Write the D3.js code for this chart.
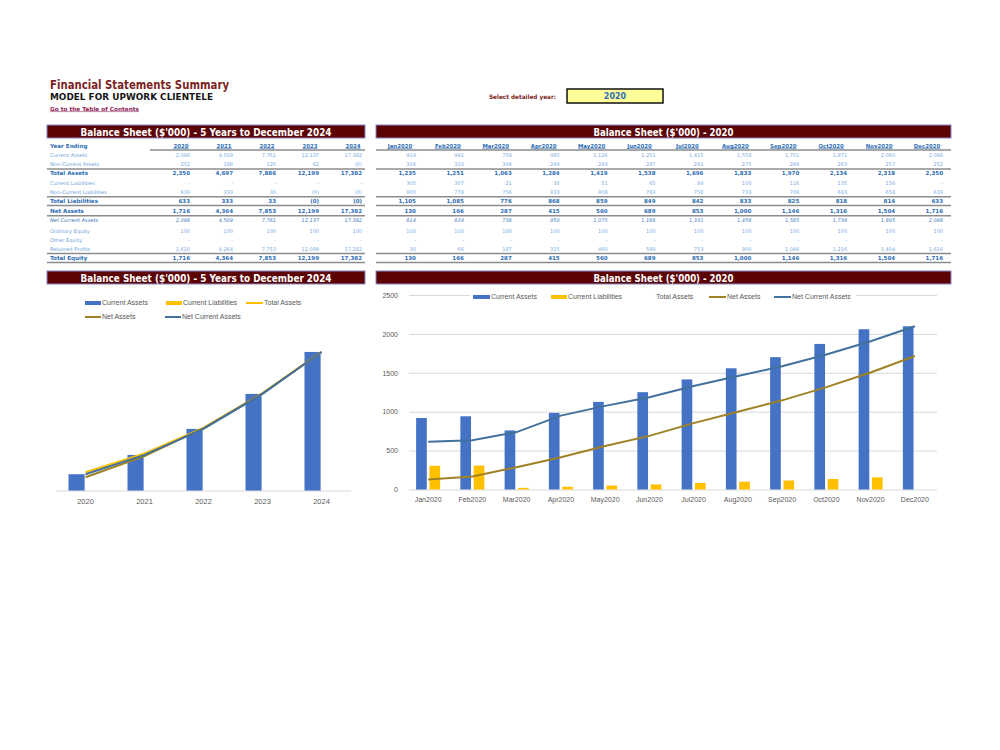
<!DOCTYPE html>
<html>
<head>
<meta charset="utf-8">
<script src="https://cdn.jsdelivr.net/npm/d3@7"></script>
<style>
body { margin: 0; background: #fff; }
svg { display: block; font-family: "DejaVu Sans", Verdana, sans-serif; }
</style>
</head>
<body>
<svg id="sheet" width="1000" height="750"></svg>
<script>
// ---- data ----
const years = ['2020', '2021', '2022', '2023', '2024'];
const months = ['Jan2020', 'Feb2020', 'Mar2020', 'Apr2020', 'May2020', 'Jun2020',
                'Jul2020', 'Aug2020', 'Sep2020', 'Oct2020', 'Nov2020', 'Dec2020'];
const rowLabels = ['Current Assets', 'Non-Current Assets', 'Total Assets', 'Current Liabilities',
                   'Non-Current Liabilities', 'Total Liabilities', 'Net Assets', 'Net Current Assets',
                   'Ordinary Equity', 'Other Equity', 'Retained Profits', 'Total Equity'];

// yearly (small negatives show as "(0)")
const currentAssets5 = [2098, 4509, 7761, 12137, 17382];
const nonCurrentAssets5 = [252, 188, 125, 62, -0.2];
const totalAssets5 = [2350, 4697, 7886, 12199, 17382];
const currentLiab5 = [0, 0, 0, 0, 0];
const nonCurrentLiab5 = [633, 333, 33, -0.2, -0.2];
const totalLiab5 = [633, 333, 33, -0.2, -0.2];
const netAssets5 = [1716, 4364, 7853, 12199, 17382];
const netCurrentAssets5 = [2098, 4509, 7761, 12137, 17382];
const ordinaryEquity5 = [100, 100, 100, 100, 100];
const otherEquity5 = [0, 0, 0, 0, 0];
const retainedProfits5 = [1616, 4264, 7753, 12099, 17282];
const totalEquity5 = [1716, 4364, 7853, 12199, 17382];

// monthly 2020
const currentAssetsM = [919, 941, 759, 985, 1126, 1251, 1415, 1558, 1701, 1871, 2060, 2098];
const nonCurrentAssetsM = [316, 310, 304, 299, 293, 287, 281, 275, 269, 263, 257, 252];
const totalAssetsM = [1235, 1251, 1063, 1284, 1419, 1538, 1696, 1833, 1970, 2134, 2318, 2350];
const currentLiabM = [305, 307, 21, 35, 51, 65, 84, 100, 116, 135, 156, 0];
const nonCurrentLiabM = [800, 778, 756, 833, 808, 783, 758, 733, 708, 683, 658, 633];
const totalLiabM = [1105, 1085, 776, 868, 859, 849, 842, 833, 825, 818, 814, 633];
const netAssetsM = [130, 166, 287, 415, 560, 689, 853, 1000, 1146, 1316, 1504, 1716];
const netCurrentAssetsM = [614, 634, 738, 950, 1075, 1186, 1331, 1458, 1585, 1736, 1905, 2098];
const ordinaryEquityM = [100, 100, 100, 100, 100, 100, 100, 100, 100, 100, 100, 100];
const otherEquityM = [0, 0, 0, 0, 0, 0, 0, 0, 0, 0, 0, 0];
const retainedProfitsM = [30, 66, 187, 315, 460, 589, 753, 900, 1046, 1216, 1404, 1616];
const totalEquityM = [130, 166, 287, 415, 560, 689, 853, 1000, 1146, 1316, 1504, 1716];

const yTicksRight = [0, 500, 1000, 1500, 2000, 2500];

const yearRows = [currentAssets5, nonCurrentAssets5, totalAssets5, currentLiab5, nonCurrentLiab5,
                  totalLiab5, netAssets5, netCurrentAssets5, ordinaryEquity5, otherEquity5,
                  retainedProfits5, totalEquity5];
const monthRows = [currentAssetsM, nonCurrentAssetsM, totalAssetsM, currentLiabM, nonCurrentLiabM,
                   totalLiabM, netAssetsM, netCurrentAssetsM, ordinaryEquityM, otherEquityM,
                   retainedProfitsM, totalEquityM];

// ---- drawing ----
const svg = d3.select('#sheet');
svg.append('rect').attr('width', 1000).attr('height', 750).attr('fill', '#fff');

const blueBar = '#4472c4', yellow = '#ffc000', gold = '#9f8224', steel = '#41719c';
const maroon = '#5c0404';

// heading block
svg.append('text').attr('x', 50).attr('y', 89)
    .attr('font-size', 11.5).attr('font-weight', 'bold').attr('fill', '#7b1f22')
    .attr('textLength', 179).attr('lengthAdjust', 'spacingAndGlyphs')
    .text('Financial Statements Summary');
svg.append('text').attr('x', 50).attr('y', 99.5)
    .attr('font-size', 9).attr('font-weight', 'bold').attr('fill', '#161616')
    .attr('textLength', 163).attr('lengthAdjust', 'spacingAndGlyphs')
    .text('MODEL FOR UPWORK CLIENTELE');
svg.append('text').attr('x', 50).attr('y', 110.5)
    .attr('font-size', 5.6).attr('font-weight', 'bold').attr('fill', '#8e2456')
    .attr('text-decoration', 'underline')
    .attr('textLength', 89).attr('lengthAdjust', 'spacingAndGlyphs')
    .text('Go to the Table of Contents');

svg.append('text').attr('x', 489).attr('y', 99)
    .attr('font-size', 6).attr('font-weight', 'bold').attr('fill', '#7b1f22')
    .attr('textLength', 67).attr('lengthAdjust', 'spacingAndGlyphs')
    .text('Select detailed year:');
svg.append('rect').attr('x', 567).attr('y', 89).attr('width', 96).attr('height', 14)
    .attr('fill', '#ffff99').attr('stroke', '#111').attr('stroke-width', 1.5);
svg.append('text').attr('x', 615).attr('y', 99)
    .attr('text-anchor', 'middle').attr('font-size', 8).attr('font-weight', 'bold')
    .attr('fill', '#2e6db4').text(years[0]);

function headerBar(x0, x1, y0, y1, label, tl) {
    svg.append('rect').attr('x', x0).attr('y', y0).attr('width', x1 - x0).attr('height', y1 - y0)
        .attr('fill', maroon).attr('stroke', '#8a86c4').attr('stroke-width', 1);
    svg.append('text').attr('x', (x0 + x1) / 2).attr('y', (y0 + y1) / 2 + 4)
        .attr('text-anchor', 'middle').attr('font-size', 10.5).attr('font-weight', 'bold')
        .attr('fill', '#fff').attr('textLength', tl).attr('lengthAdjust', 'spacingAndGlyphs')
        .text(label);
}

headerBar(47, 365, 125, 138, "Balance Sheet ($'000) - 5 Years to December 2024", 251);
headerBar(376, 951, 125, 138, "Balance Sheet ($'000) - " + years[0], 140);
headerBar(47, 365, 271, 284, "Balance Sheet ($'000) - 5 Years to December 2024", 251);
headerBar(376, 951, 271, 284, "Balance Sheet ($'000) - " + years[0], 140);

// ---- tables ----
const fmtNum = d3.format(',.0f');
function cell(v) {
    if (v === 0) return '-';
    if (v < 0) return '(' + fmtNum(Math.abs(v)) + ')';
    return fmtNum(v);
}
const rowKinds = ['n', 'n', 'b', 'n', 'n', 'b', 'b', 'i', 'n', 'n', 'n', 'b'];
const rowY = i => 155 + 9 * i + (i >= 3 ? 1 : 0) + (i >= 6 ? 1 : 0) + (i >= 8 ? 2 : 0);
const lineYs = [169, 196.8, 205.5, 215.8, 253.5, 262.5];

function drawTable(cols, rows, x0, x1, colX0, valueInset, headCenter, showLabels) {
    const g = svg.append('g');
    const x = d3.scaleBand().domain(cols).range([colX0, x1]);

    // separators
    g.append('line').attr('x1', colX0).attr('x2', x1).attr('y1', 150).attr('y2', 150)
        .attr('stroke', '#8c8c8c').attr('stroke-width', 1.6);
    lineYs.forEach(y => {
        g.append('line').attr('x1', x0).attr('x2', x1).attr('y1', y).attr('y2', y)
            .attr('stroke', '#8c8c8c').attr('stroke-width', 1.4);
    });

    // column headers
    g.selectAll('.head').data(cols).enter().append('text')
        .attr('x', d => headCenter(x(d), x.bandwidth()))
        .attr('y', 147.5)
        .attr('text-anchor', 'middle')
        .attr('font-size', 5.4).attr('font-weight', 'bold')
        .attr('text-decoration', 'underline')
        .attr('fill', '#2e6db4')
        .text(d => d);

    if (showLabels) {
        g.append('text').attr('x', 50).attr('y', 147.5)
            .attr('font-size', 5.6).attr('font-weight', 'bold').attr('fill', '#2e6db4')
            .text('Year Ending');
        g.selectAll('.lab').data(rowLabels).enter().append('text')
            .attr('x', 50).attr('y', (d, i) => rowY(i) + 1.9)
            .attr('font-size', (d, i) => rowKinds[i] === 'b' ? 5.6 : 5.1)
            .attr('font-weight', (d, i) => rowKinds[i] === 'b' ? 'bold' : 'normal')
            .attr('font-style', (d, i) => rowKinds[i] === 'i' ? 'italic' : 'normal')
            .attr('fill', (d, i) => rowKinds[i] === 'n' ? '#6a9fd8' : '#2e6db4')
            .text(d => d);
    }

    rows.forEach((vals, i) => {
        g.selectAll('.v' + i).data(vals).enter().append('text')
            .attr('x', (d, j) => x(cols[j]) + x.bandwidth() - valueInset)
            .attr('y', rowY(i) + 1.9)
            .attr('text-anchor', 'end')
            .attr('font-size', rowKinds[i] === 'b' ? 5.5 : 5)
            .attr('font-weight', rowKinds[i] === 'b' ? 'bold' : 'normal')
            .attr('font-style', rowKinds[i] === 'i' ? 'italic' : 'normal')
            .attr('fill', rowKinds[i] === 'n' ? '#7aabdf' : (rowKinds[i] === 'i' ? '#3f7cc2' : '#2e6db4'))
            .text(d => cell(d));
    });
}

drawTable(years, yearRows, 47, 365, 150, 3, (bx, bw) => bx + bw - 12, true);
drawTable(months, monthRows, 376, 951, 376, 8, (bx, bw) => bx + bw / 2, false);

// ---- left chart: 5 years ----
const xL = d3.scaleBand().domain(years).range([56, 351]);
const xL1 = d3.scaleBand().domain(['ca', 'cl']).range([-17, 17]).paddingInner(0.1);
const yL = d3.scaleLinear().domain([0, 20000]).range([491, 331]);
const cL = d => xL(d) + xL.bandwidth() / 2;

const gl = svg.append('g');
gl.selectAll('.ca').data(currentAssets5).enter().append('rect')
    .attr('x', (d, i) => cL(years[i]) + xL1('ca'))
    .attr('y', d => yL(d))
    .attr('width', xL1.bandwidth())
    .attr('height', d => yL(0) - yL(d))
    .attr('fill', blueBar);
gl.selectAll('.cl').data(currentLiab5).enter().append('rect')
    .attr('x', (d, i) => cL(years[i]) + xL1('cl'))
    .attr('y', d => yL(d))
    .attr('width', xL1.bandwidth())
    .attr('height', d => yL(0) - yL(d))
    .attr('fill', yellow);

gl.append('line').attr('x1', 56).attr('x2', 351).attr('y1', yL(0)).attr('y2', yL(0))
    .attr('stroke', '#d9d9d9').attr('stroke-width', 1);

const lineL = d3.line().x((d, i) => cL(years[i])).y(d => yL(d));
gl.append('path').attr('d', lineL(totalAssets5)).attr('fill', 'none').attr('stroke', yellow).attr('stroke-width', 2.2);
gl.append('path').attr('d', lineL(netAssets5)).attr('fill', 'none').attr('stroke', gold).attr('stroke-width', 2);
gl.append('path').attr('d', lineL(netCurrentAssets5)).attr('fill', 'none').attr('stroke', steel).attr('stroke-width', 2);

gl.append('g').attr('transform', `translate(0, ${yL(0)})`)
    .call(d3.axisBottom(xL).tickSize(0).tickPadding(8))
    .call(g => g.select('.domain').remove())
    .call(g => g.selectAll('text')
        .attr('font-family', '"Liberation Sans", Arial, sans-serif')
        .attr('font-size', 7.5).attr('fill', '#595959'));

// ---- right chart: months ----
const xR = d3.scaleBand().domain(months).range([406, 937]);
const xR1 = d3.scaleBand().domain(['ca', 'cl']).range([-12, 12]).paddingInner(0.2);
const yR = d3.scaleLinear().domain([0, 2500]).range([489.5, 295]);
const cR = d => xR(d) + xR.bandwidth() / 2;

const gr = svg.append('g');
gr.append('g').attr('transform', 'translate(409, 0)')
    .call(d3.axisLeft(yR).tickValues(yTicksRight).tickSize(-528).tickPadding(11).tickFormat(d3.format('d')))
    .call(g => g.select('.domain').remove())
    .call(g => g.selectAll('line').attr('stroke', '#d9d9d9'))
    .call(g => g.selectAll('text')
        .attr('font-family', '"Liberation Sans", Arial, sans-serif')
        .attr('font-size', 7).attr('fill', '#595959'));

gr.selectAll('.ca').data(currentAssetsM).enter().append('rect')
    .attr('x', (d, i) => cR(months[i]) + xR1('ca'))
    .attr('y', d => yR(d))
    .attr('width', xR1.bandwidth())
    .attr('height', d => yR(0) - yR(d))
    .attr('fill', blueBar);
gr.selectAll('.cl').data(currentLiabM).enter().append('rect')
    .attr('x', (d, i) => cR(months[i]) + xR1('cl'))
    .attr('y', d => yR(d))
    .attr('width', xR1.bandwidth())
    .attr('height', d => yR(0) - yR(d))
    .attr('fill', yellow);

const lineR = d3.line().x((d, i) => cR(months[i])).y(d => yR(d));
gr.append('path').attr('d', lineR(netAssetsM)).attr('fill', 'none').attr('stroke', gold).attr('stroke-width', 2);
gr.append('path').attr('d', lineR(netCurrentAssetsM)).attr('fill', 'none').attr('stroke', steel).attr('stroke-width', 2);

gr.append('g').attr('transform', `translate(0, ${yR(0)})`)
    .call(d3.axisBottom(xR).tickSize(0).tickPadding(8))
    .call(g => g.select('.domain').remove())
    .call(g => g.selectAll('text')
        .attr('font-family', '"Liberation Sans", Arial, sans-serif')
        .attr('font-size', 7).attr('fill', '#595959'));

// ---- legends ----
function legendItem(x, y, kind, color, label, w) {
    if (kind === 'bar') {
        svg.append('rect').attr('x', x).attr('y', y - 2).attr('width', w).attr('height', 4).attr('fill', color);
    } else if (kind === 'line') {
        svg.append('line').attr('x1', x).attr('x2', x + w).attr('y1', y).attr('y2', y)
            .attr('stroke', color).attr('stroke-width', 2);
    }
    svg.append('text').attr('x', x + w + 1).attr('y', y + 2.3)
        .attr('font-family', '"Liberation Sans", Arial, sans-serif')
        .attr('font-size', 7).attr('fill', '#595959').text(label);
}

// left chart legend
legendItem(85, 303, 'bar', blueBar, 'Current Assets', 16);
legendItem(166, 303, 'bar', yellow, 'Current Liabilities', 16);
legendItem(246, 303, 'line', yellow, 'Total Assets', 17);
legendItem(85, 317, 'line', gold, 'Net Assets', 16);
legendItem(165, 317, 'line', steel, 'Net Current Assets', 16);

// right chart legend sits on a white box over the top gridline
svg.append('rect').attr('x', 470).attr('y', 291).attr('width', 386).attr('height', 11).attr('fill', '#fff');
legendItem(473, 297, 'bar', blueBar, 'Current Assets', 17);
legendItem(551, 297, 'bar', yellow, 'Current Liabilities', 16);
legendItem(639, 297, 'none', '#fff', 'Total Assets', 16);
legendItem(709, 297, 'line', gold, 'Net Assets', 17);
legendItem(774, 297, 'line', steel, 'Net Current Assets', 17);
</script>
</body>
</html>
